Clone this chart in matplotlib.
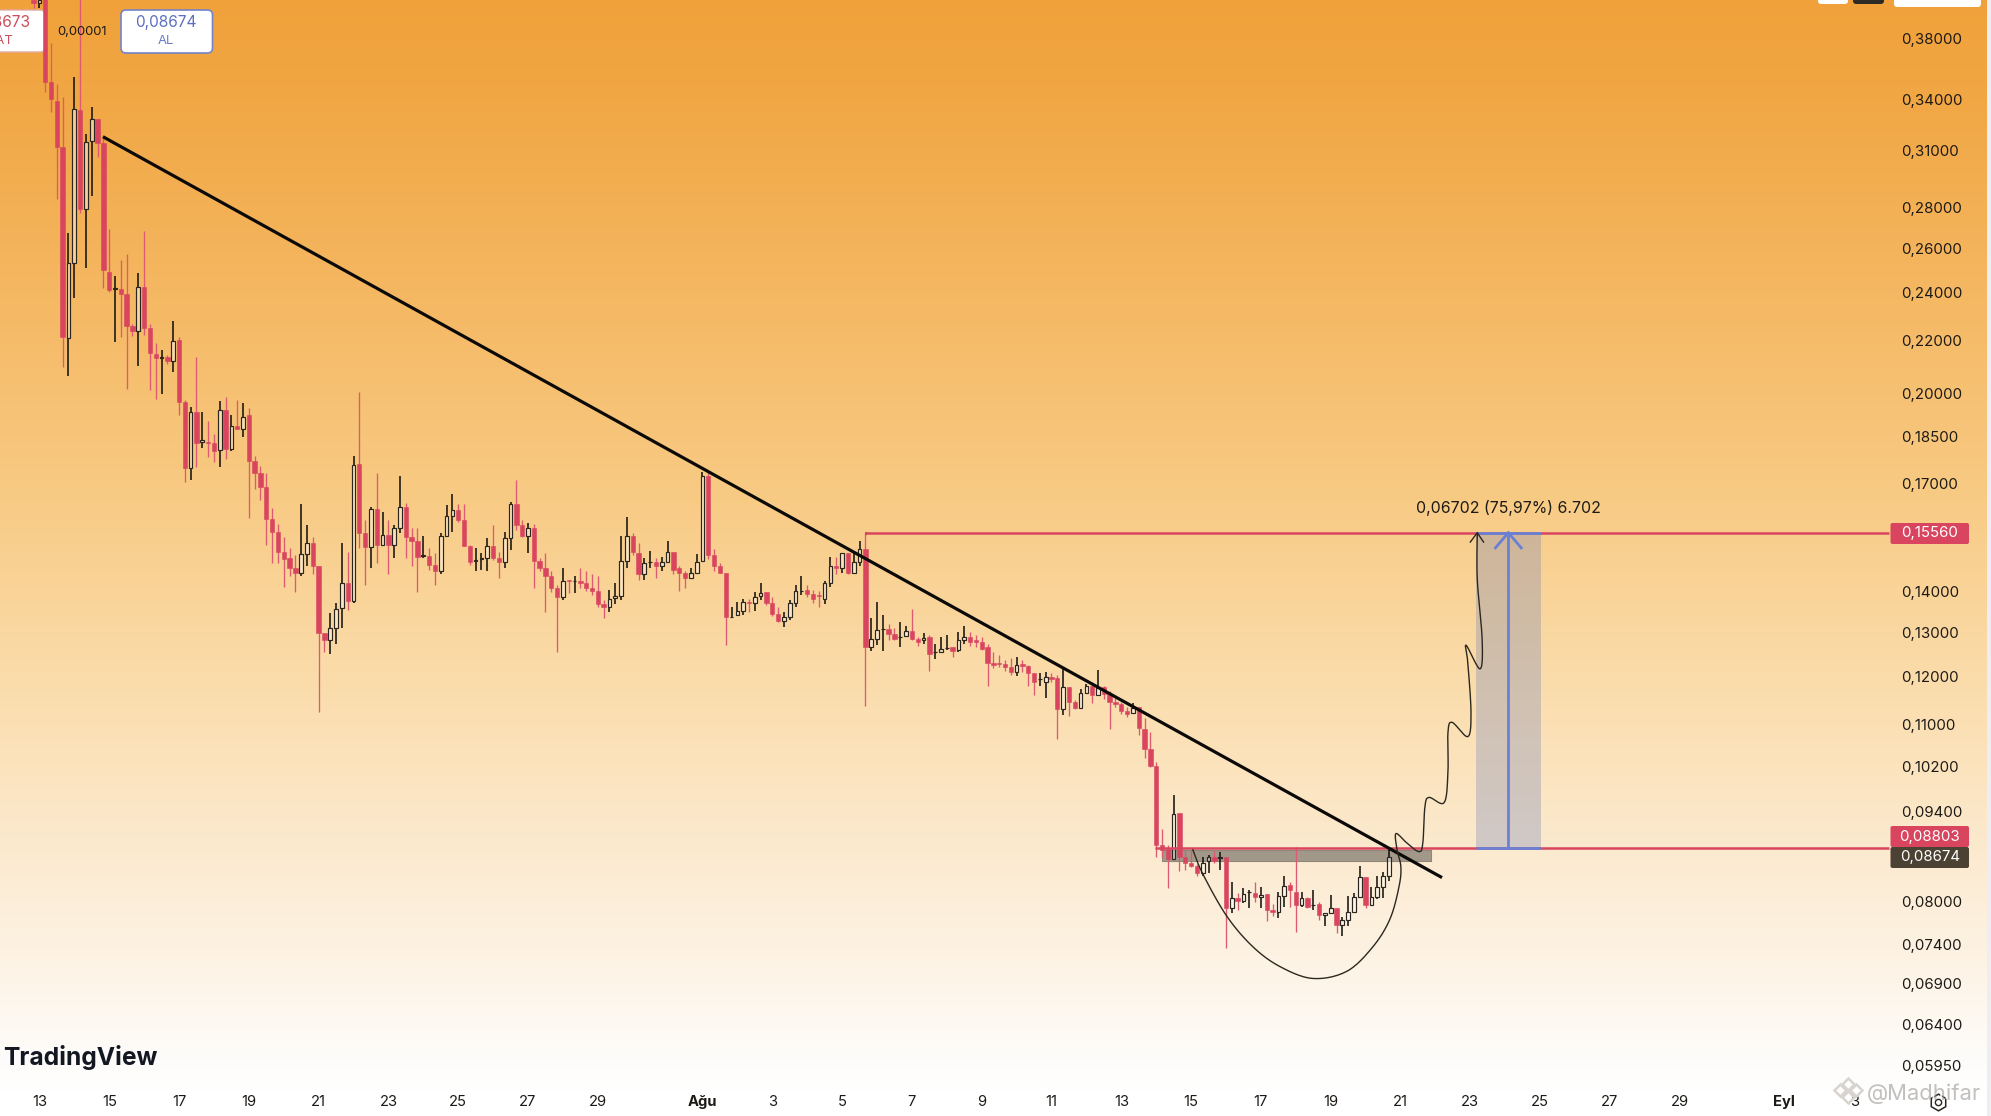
import numpy as np
import matplotlib
matplotlib.use("Agg")
import matplotlib.pyplot as plt
from matplotlib.patches import FancyBboxPatch
from matplotlib.ticker import NullLocator
from matplotlib.transforms import IdentityTransform

W, H = 1991, 1116
FONT = "Inter"

# ===== Candles (4h), first one just before Jul 13 =====
opens = [
    .4070,.4050,.4145,.3508,.3392,.3123,.2213,.2534,.3339,.2793,
    .3158,.3286,.3146,.2493,.2414,.2414,.2392,.2258,.2238,.2423,
    .2250,.2149,.2131,.2138,.2120,.2205,.1970,.1748,.1936,.1834,
    .1834,.1831,.1807,.1943,.1810,.1885,.1878,.1923,.1770,.1733,
    .1691,.1596,.1558,.1503,.1487,.1461,.1448,.1498,.1528,.1466,
    .1299,.1281,.1311,.1359,.1422,.1376,.1760,.1555,.1517,.1625,
    .1522,.1550,.1522,.1570,.1631,.1543,.1534,.1492,.1492,.1469,
    .1451,.1546,.1605,.1622,.1593,.1520,.1479,.1485,.1487,.1520,
    .1487,.1477,.1540,.1639,.1577,.1546,.1568,.1479,.1459,.1438,
    .1409,.1386,.1430,.1426,.1425,.1420,.1409,.1401,.1368,.1361,
    .1383,.1388,.1479,.1548,.1500,.1443,.1476,.1477,.1466,.1477,
    .1503,.1459,.1448,.1433,.1448,.1479,.1723,.1495,.1464,.1448,
    .1336,.1342,.1352,.1373,.1371,.1388,.1399,.1371,.1344,.1328,
    .1337,.1371,.1400,.1404,.1394,.1391,.1381,.1422,.1466,.1459,
    .1500,.1446,.1477,.1511,.1265,.1284,.1307,.1308,.1296,.1288,
    .1291,.1303,.1284,.1282,.1289,.1254,.1255,.1263,.1266,.1259,
    .1282,.1289,.1282,.1277,.1266,.1231,.1230,.1228,.1221,.1210,
    .1228,.1223,.1208,.1195,.1189,.1200,.1198,.1131,.1177,.1147,
    .1135,.1166,.1181,.1160,.1177,.1162,.1147,.1143,.1127,.1123,
    .1137,.1091,.1053,.1022,.0886,.0881,.0864,.0938,.0866,.0857,
    .0852,.0842,.0860,.0867,.0865,.0866,.0791,.0805,.0801,.0813,
    .0812,.0806,.0811,.0788,.0785,.0808,.0824,.0814,.0794,.0805,
    .0794,.0796,.0781,.0784,.0790,.0766,.0773,.0785,.0806,.0836,
    .0795,.0806,.0821,.0837,
]
highs = [
    .4150,.4100,.4200,.3769,.3495,.3417,.2675,.3540,.4200,.3193,
    .3357,.3286,.3176,.2690,.2475,.2547,.2574,.2266,.2488,.2680,
    .2266,.2193,.2164,.2146,.2279,.2217,.1977,.1953,.2138,.1936,
    .1902,.1858,.1974,.1988,.1926,.1977,.1967,.1950,.1788,.1754,
    .1733,.1628,.1581,.1543,.1514,.1495,.1639,.1577,.1543,.1466,
    .1299,.1347,.1371,.1528,.1503,.1788,.2007,.1593,.1631,.1733,
    .1616,.1593,.1579,.1723,.1642,.1570,.1570,.1546,.1514,.1500,
    .1555,.1636,.1670,.1639,.1639,.1522,.1514,.1500,.1540,.1577,
    .1503,.1558,.1645,.1710,.1593,.1584,.1581,.1487,.1500,.1451,
    .1417,.1461,.1430,.1438,.1461,.1451,.1443,.1438,.1378,.1404,
    .1420,.1546,.1602,.1555,.1528,.1487,.1505,.1487,.1490,.1534,
    .1503,.1466,.1451,.1459,.1498,.1736,.1736,.1511,.1474,.1448,
    .1361,.1373,.1381,.1381,.1399,.1420,.1399,.1386,.1361,.1349,
    .1378,.1417,.1438,.1417,.1404,.1401,.1425,.1490,.1490,.1500,
    .1500,.1503,.1534,.1553,.1335,.1373,.1342,.1320,.1311,.1325,
    .1316,.1356,.1289,.1299,.1294,.1273,.1289,.1294,.1266,.1301,
    .1314,.1301,.1294,.1289,.1273,.1255,.1248,.1237,.1241,.1243,
    .1237,.1225,.1208,.1208,.1210,.1208,.1204,.1219,.1177,.1151,
    .1173,.1184,.1188,.1215,.1181,.1169,.1155,.1147,.1137,.1145,
    .1137,.1113,.1085,.1028,.0911,.0886,.0970,.0938,.0878,.0878,
    .0855,.0866,.0870,.0876,.0875,.0867,.0829,.0812,.0820,.0816,
    .0829,.0821,.0811,.0796,.0814,.0837,.0828,.0883,.0814,.0806,
    .0816,.0799,.0784,.0809,.0790,.0777,.0808,.0812,.0852,.0836,
    .0821,.0837,.0843,.0883,
]
lows = [
    .4010,.4015,.3450,.3327,.2842,.2097,.2064,.2378,.2773,.2511,
    .2859,.3067,.2419,.2401,.2197,.2217,.2018,.2221,.2101,.2225,
    .2014,.1981,.1999,.2109,.2079,.1923,.1704,.1710,.1751,.1814,
    .1785,.1767,.1751,.1779,.1804,.1875,.1848,.1599,.1683,.1651,
    .1522,.1472,.1472,.1412,.1440,.1399,.1438,.1464,.1443,.1125,
    .1255,.1250,.1273,.1309,.1354,.1371,.1514,.1417,.1461,.1474,
    .1520,.1443,.1487,.1555,.1487,.1466,.1399,.1487,.1456,.1417,
    .1443,.1543,.1558,.1587,.1520,.1469,.1451,.1456,.1453,.1482,
    .1435,.1461,.1508,.1565,.1543,.1500,.1409,.1451,.1349,.1399,
    .1255,.1378,.1396,.1396,.1407,.1401,.1391,.1361,.1335,.1349,
    .1368,.1378,.1461,.1495,.1430,.1430,.1461,.1433,.1451,.1477,
    .1443,.1401,.1407,.1433,.1448,.1479,.1485,.1453,.1446,.1270,
    .1335,.1340,.1342,.1349,.1352,.1378,.1366,.1340,.1324,.1312,
    .1330,.1361,.1391,.1386,.1371,.1361,.1368,.1412,.1443,.1446,
    .1443,.1443,.1466,.1139,.1257,.1270,.1257,.1282,.1282,.1265,
    .1289,.1282,.1268,.1273,.1213,.1239,.1252,.1259,.1244,.1255,
    .1273,.1268,.1266,.1259,.1179,.1219,.1221,.1213,.1204,.1202,
    .1210,.1179,.1160,.1181,.1155,.1189,.1073,.1119,.1117,.1131,
    .1133,.1164,.1145,.1158,.1153,.1091,.1137,.1121,.1115,.1121,
    .1081,.1037,.1020,.0866,.0867,.0820,.0863,.0845,.0846,.0851,
    .0837,.0837,.0842,.0858,.0846,.0736,.0784,.0787,.0798,.0790,
    .0799,.0791,.0772,.0779,.0776,.0792,.0792,.0757,.0792,.0791,
    .0787,.0774,.0765,.0784,.0755,.0752,.0765,.0784,.0806,.0791,
    .0794,.0803,.0805,.0830,
]
closes = [
    .4050,.4070,.3508,.3405,.3123,.2217,.2534,.3345,.2793,.3152,
    .3286,.3146,.2498,.2410,.2419,.2392,.2258,.2238,.2423,.2250,
    .2153,.2131,.2138,.2120,.2201,.1970,.1748,.1936,.1831,.1838,
    .1831,.1804,.1943,.1810,.1885,.1878,.1919,.1770,.1733,.1691,
    .1596,.1558,.1503,.1485,.1461,.1448,.1498,.1528,.1466,.1299,
    .1281,.1311,.1356,.1422,.1376,.1757,.1555,.1517,.1625,.1522,
    .1550,.1522,.1570,.1631,.1543,.1534,.1490,.1495,.1469,.1451,
    .1546,.1605,.1622,.1593,.1520,.1477,.1482,.1487,.1520,.1487,
    .1477,.1540,.1639,.1577,.1546,.1568,.1479,.1459,.1438,.1409,
    .1386,.1427,.1425,.1427,.1420,.1409,.1401,.1368,.1361,.1381,
    .1388,.1479,.1548,.1503,.1443,.1474,.1477,.1466,.1477,.1503,
    .1456,.1448,.1433,.1448,.1477,.1723,.1495,.1464,.1448,.1337,
    .1337,.1352,.1373,.1371,.1386,.1396,.1371,.1344,.1328,.1337,
    .1371,.1401,.1401,.1394,.1381,.1388,.1422,.1464,.1459,.1500,
    .1446,.1477,.1511,.1265,.1284,.1306,.1308,.1296,.1284,.1289,
    .1303,.1284,.1277,.1287,.1250,.1255,.1261,.1264,.1257,.1282,
    .1289,.1277,.1277,.1261,.1231,.1225,.1228,.1221,.1210,.1225,
    .1223,.1208,.1189,.1196,.1200,.1196,.1131,.1177,.1147,.1135,
    .1166,.1181,.1160,.1175,.1162,.1147,.1143,.1127,.1121,.1135,
    .1093,.1053,.1022,.0886,.0878,.0863,.0936,.0866,.0858,.0852,
    .0842,.0858,.0867,.0861,.0866,.0791,.0805,.0801,.0811,.0814,
    .0806,.0809,.0788,.0785,.0808,.0823,.0816,.0794,.0805,.0792,
    .0795,.0781,.0784,.0790,.0766,.0773,.0785,.0806,.0836,.0795,
    .0806,.0821,.0837,.0867,
]

# ===== Axis labels (x is days counted from Jul 1) =====
y_ticks = [.38, .34, .31, .28, .26, .24, .22, .20, .185, .17, .14, .13, .12,
           .11, .102, .094, .08, .074, .069, .064, .0595]
y_labels = ["0,38000", "0,34000", "0,31000", "0,28000", "0,26000", "0,24000",
            "0,22000", "0,20000", "0,18500", "0,17000", "0,14000", "0,13000",
            "0,12000", "0,11000", "0,10200", "0,09400", "0,08000", "0,07400",
            "0,06900", "0,06400", "0,05950"]
x_ticks = [13, 15, 17, 19, 21, 23, 25, 27, 29, 32, 34, 36, 38, 40, 42, 44, 46,
           48, 50, 52, 54, 56, 58, 60, 63, 65]
x_labels = ["13", "15", "17", "19", "21", "23", "25", "27", "29", "Ağu", "3",
            "5", "7", "9", "11", "13", "15", "17", "19", "21", "23", "25",
            "27", "29", "Eyl", "3"]

# ===== Drawings =====
trend_x = [14.82, 53.19]
trend_y = [.3180, .0835]
target_price = .1556
entry_price = .08803
last_price = .08674
target_start = 36.68
entry_start = 44.97
zone_x = [45.17, 52.87]
zone_y = [.0878, .0861]
range_x = [54.16, 56.02]
range_mid = 55.09
range_text = "0,06702 (75,97%) 6.702"

brush_x = [46.05, 46.34, 47.02, 47.77, 48.55, 49.49, 50.46, 51.21, 51.70, 51.96,
           52.01, 51.90, 51.87, 52.18, 52.53, 52.64, 52.70, 52.82, 53.25, 53.36,
           53.36, 53.48, 53.93, 54.02, 53.93, 53.88, 54.28, 54.34, 54.20, 54.20]
brush_y = [.0878, .0840, .0779, .0737, .0711, .0696, .0705, .0737, .0775, .0822,
           .0852, .0878, .0904, .0889, .0875, .0889, .0949, .0965, .0956, .1010,
           .1085, .1105, .1077, .1125, .1230, .1270, .1217, .1283, .1430, .1555]

# ===== Colours =====
RED = "#d9455f"
RED_WICK = "#dc5a72"
DARK = "#1d1a16"
BLUE = "#6a80d4"
grad_pos = [0, 100, 300, 500, 700, 850, 950, 1060, 1090]
grad_rgb = [(240, 161, 58), (241, 167, 68), (245, 184, 99), (248, 203, 133),
            (251, 222, 175), (252, 234, 207), (253, 242, 226), (254, 252, 250),
            (255, 255, 255)]


def smooth(xs, ys, steps=14):
    # catmull-rom through the hand drawn points, in log price
    pts = np.column_stack([xs, np.log(ys)])
    pts = np.vstack([pts[0], pts, pts[-1]])
    out = []
    for i in range(1, len(pts) - 2):
        p0, p1, p2, p3 = pts[i - 1], pts[i], pts[i + 1], pts[i + 2]
        for t in np.linspace(0, 1, steps, endpoint=False):
            out.append(0.5 * (2 * p1 + (p2 - p0) * t
                              + (2 * p0 - 5 * p1 + 4 * p2 - p3) * t ** 2
                              + (3 * p1 - p0 - 3 * p2 + p3) * t ** 3))
    out.append(pts[-1])
    out = np.array(out)
    return out[:, 0], np.exp(out[:, 1])


def ui_box(x0, y0, x1, y1, fc, ec="none", lw=0, r=4):
    # screen widgets, given in pixels from the top left
    fig.add_artist(FancyBboxPatch((x0 + r, H - y1 + r), x1 - x0 - 2 * r, y1 - y0 - 2 * r,
                                  boxstyle=f"round,pad={r},rounding_size={r}",
                                  fc=fc, ec=ec, lw=lw, transform=IdentityTransform()))


def ui_text(x, y, s, size, color, **kw):
    fig.text(x, H - y, s, fontsize=size * 0.72, color=color, ha=kw.pop("ha", "center"),
             va="center", family=FONT, transform=IdentityTransform(), **kw)


fig = plt.figure(figsize=(W / 100, H / 100), dpi=100, facecolor="white")

# ===== Background =====
bg = fig.add_axes([0, 0, 1, 1], zorder=0)
rows = np.arange(H)
grad = np.stack([np.interp(rows, grad_pos, [c[i] for c in grad_rgb]) for i in range(3)], axis=1)
bg.imshow(grad[:, None, :] / 255, aspect="auto", extent=[0, W, H, 0])
bg.axvspan(1987, W, color="#eeeef2", lw=0)
bg.axis("off")

# ===== Price axes =====
ax = fig.add_axes([0, 0, 1, 1], zorder=1)
ax.patch.set_visible(False)
ax.set_yscale("log")
ax.set_xlim(11.871, 68.92)
ax.set_ylim(.0543, .407)
for s in ax.spines.values():
    s.set_visible(False)

ax.yaxis.tick_right()
ax.yaxis.set_minor_locator(NullLocator())
ax.set_yticks(y_ticks, y_labels)
ax.tick_params(axis="y", which="both", length=0, pad=-64.8, labelcolor=DARK)
ax.set_xticks(x_ticks, x_labels)
ax.tick_params(axis="x", length=0, pad=-14.8, labelcolor=DARK)
for t in ax.get_yticklabels():
    t.set(family=FONT, fontsize=10.8, ha="left")
for t in ax.get_xticklabels():
    t.set(family=FONT, fontsize=10.6)
    if t.get_text() in ("Ağu", "Eyl"):
        t.set_fontweight("bold")

# ===== Candles =====
o, h, l, c = map(np.array, (opens, highs, lows, closes))
x = 13 + (np.arange(len(o)) - 1) / 6
up = c >= o
top = np.maximum(o, c)
bot = np.minimum(o, c)

ax.fill_between(zone_x, zone_y[1], zone_y[0], color="#a1988a", ec="#8f8778", lw=0.8, zorder=2)

ax.vlines(x[~up], l[~up], h[~up], color=RED_WICK, lw=0.95, zorder=3)
ax.vlines(x[up], top[up], h[up], color="#17140f", lw=1.15, zorder=3)
ax.vlines(x[up], l[up], bot[up], color="#17140f", lw=1.15, zorder=3)
ax.bar(x[~up], (top - bot)[~up], bottom=bot[~up], width=0.125, color=RED,
       ec=RED, lw=0.4, zorder=4)
ax.bar(x[up], (top - bot)[up], bottom=bot[up], width=0.105, color=(1, 1, 1, 0.42),
       ec="#2a261f", lw=0.85, zorder=4)

# ===== Levels and long position box =====
ax.plot([target_start, target_start], [target_price, highs[143]], color=RED, lw=1.5, zorder=4)
ax.hlines(target_price, target_start, 13 + (1889 - 39.4) / 34.9, color=RED, lw=1.8, zorder=5)
ax.hlines(entry_price, entry_start, 13 + (1889 - 39.4) / 34.9, color=RED, lw=1.8, zorder=5)

ax.fill_between(range_x, entry_price, target_price, color=(110 / 255, 126 / 255, 183 / 255),
                alpha=0.3, lw=0, zorder=2)
ax.hlines([target_price, entry_price], *range_x, color=BLUE, lw=2.0, zorder=6)
ax.vlines(range_mid, entry_price, target_price, color=BLUE, lw=2.0, zorder=6)
ax.plot([range_mid - 0.37, range_mid, range_mid + 0.37], [.1514, target_price, .1514],
        color=BLUE, lw=2.0, zorder=6, solid_joinstyle="miter")
ax.text(range_mid, .1628, range_text, ha="center", va="center", fontsize=11.4,
        family=FONT, color=DARK, zorder=7)

# ===== Trend line and brush =====
ax.plot(trend_x, trend_y, color="#0b0a08", lw=2.3, solid_capstyle="butt", zorder=7)
bx, by = smooth(brush_x, brush_y)
ax.plot(bx, by, color="#2b2820", lw=1.0, zorder=7)
ax.plot([54.0, 54.20, 54.38], [.1530, .1556, .1530], color="#2b2820", lw=1.0, zorder=7)

# ===== Screen widgets =====
ui_box(-50, 10, 45, 52, "white", "#e3a9a4", 1, 5)
ui_text(0, 22, "0,08673", 15.5, "#cb4f5c")
ui_text(0, 41, "SAT", 13, "#cb4f5c")
ui_text(82.5, 32, "0,00001", 13, DARK)
ui_box(121, 10, 212.5, 53, "white", "#7384c8", 1.2, 5)
ui_text(166, 22, "0,08674", 15.5, "#5f6fc0")
ui_text(166, 41, "AL", 13, "#6b7ac4")

ui_box(1818, -6, 1848, 4, "white", r=3)
ui_box(1853, -6, 1884, 4, "#2e2a26", r=3)
ui_box(1894, -6, 1981, 7, "white", r=3)

ui_box(1890.5, 523, 1969, 544, RED, r=2)
ui_text(1930, 533.5, "0,15560", 15, "white")
ui_box(1890.5, 826, 1969, 847, RED, r=2)
ui_text(1930, 836.5, "0,08803", 15, "white")
ui_box(1890.5, 847, 1969, 868, "#4c4234", r=2)
ui_text(1930, 857.5, "0,08674", 15, "white")

ui_text(3, 1057, "TradingView", 24.6, "#131722", ha="left", fontweight="bold")

# gear icon and watermark
ax.plot([0.9733], [0.0128], transform=ax.transAxes, marker="h", ms=12, mfc="none",
        mec="#2a2520", mew=1.1, zorder=8)
ax.plot([0.9733], [0.0128], transform=ax.transAxes, marker="o", ms=4.5, mfc="none",
        mec="#2a2520", mew=1.0, zorder=8)
for mx, my in [(1840, 1090), (1848, 1084), (1856, 1090), (1848, 1097)]:
    ax.plot([mx / W], [1 - my / H], transform=ax.transAxes, marker="D", ms=6.5, mfc="none",
            mec="#d8d4d0", mew=1.8, zorder=8)
ui_text(1865, 1093, "@Madhifar", 22, "white", ha="left", alpha=0.9)
ui_text(1867, 1094, "@Madhifar", 22, "#9a9692", ha="left", alpha=0.6)

fig.savefig("out.png", dpi=100)
